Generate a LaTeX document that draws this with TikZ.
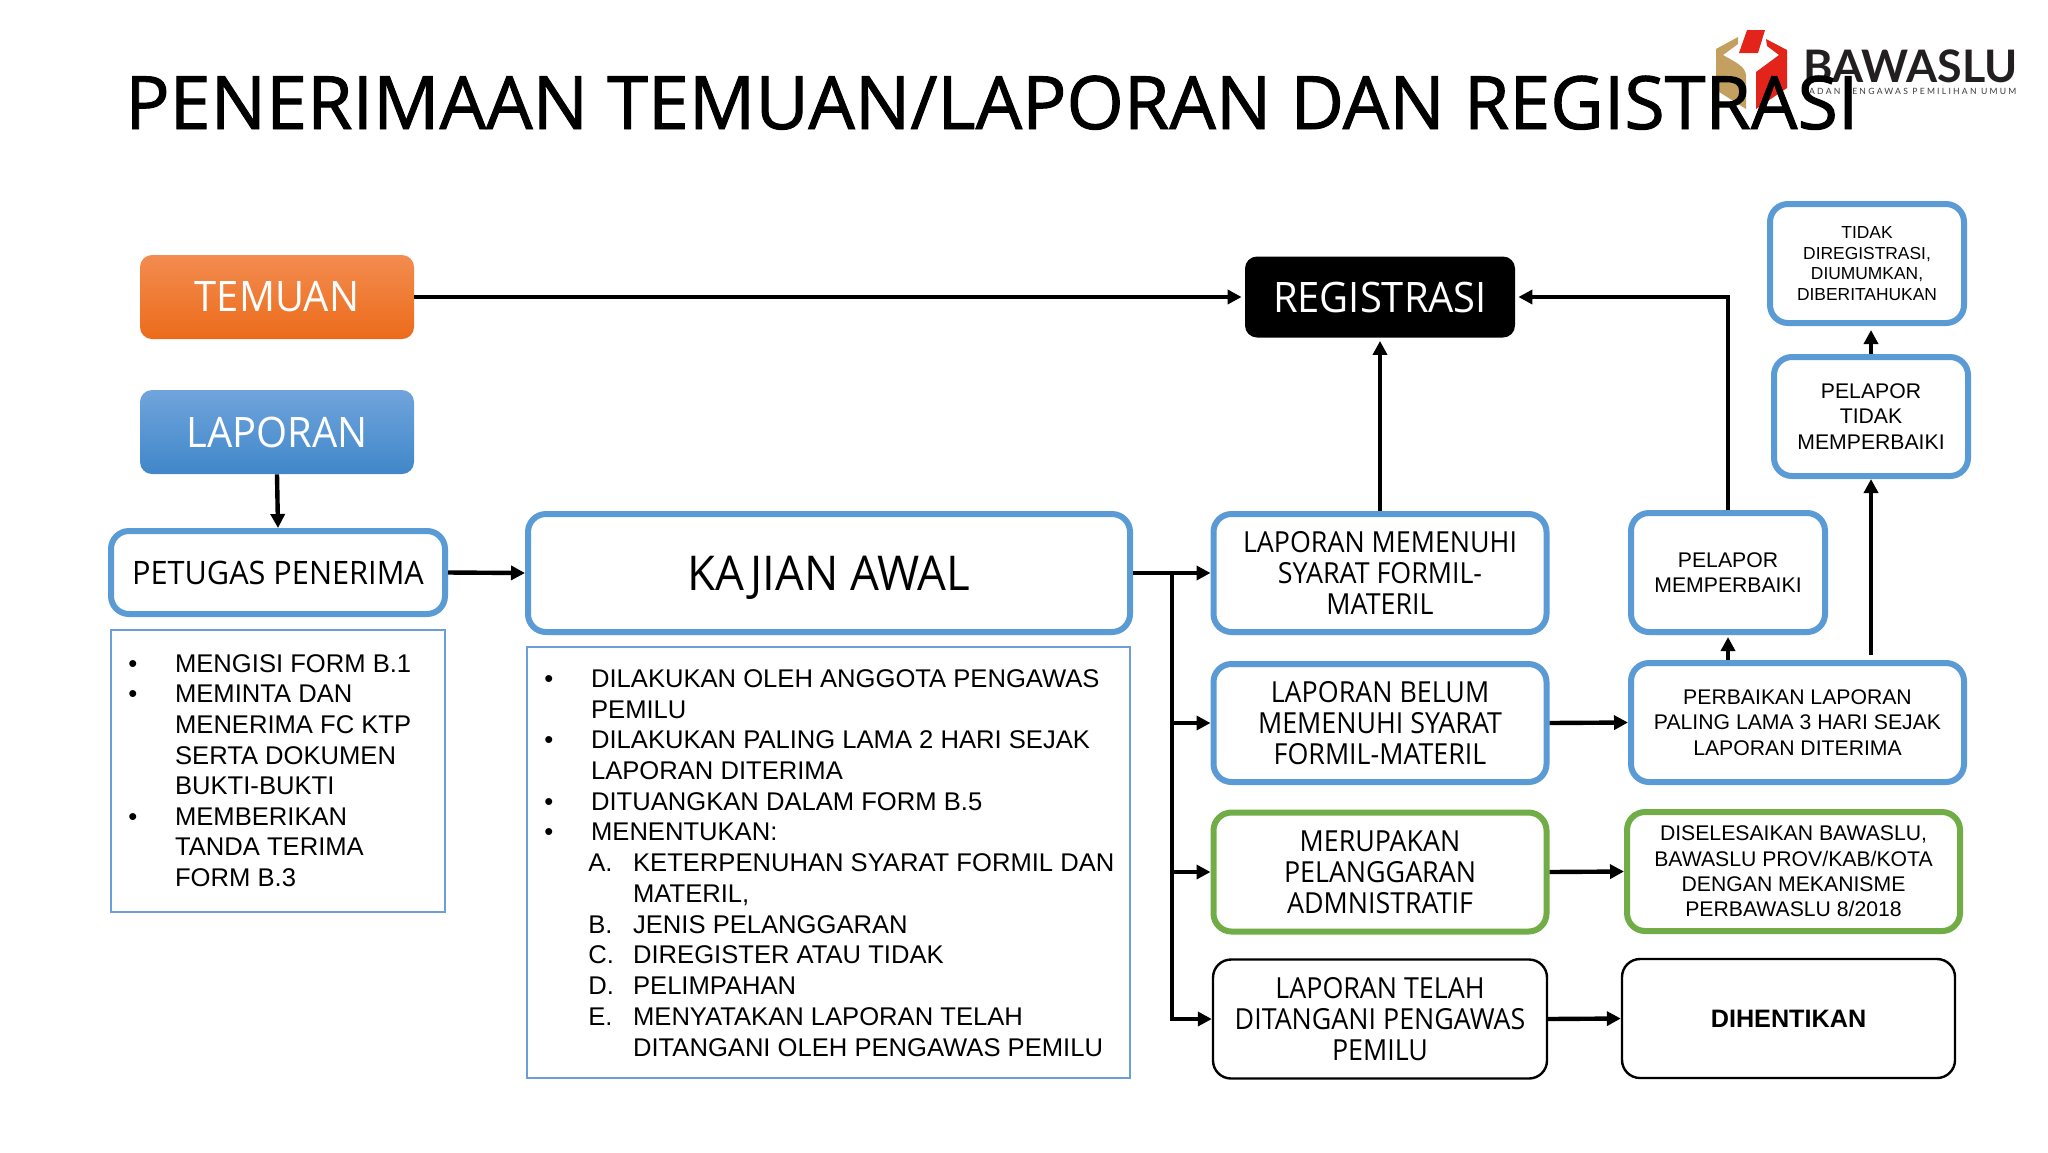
\documentclass[tikz,border=0pt]{standalone}
\usepackage{fontspec}
\usetikzlibrary{arrows.meta,calc}
\setmainfont{Liberation Sans}
\newfontfamily\seg[FakeStretch=0.95]{Open Sans}
\newfontfamily\segn[FakeStretch=0.925]{Open Sans}
\newfontfamily\ttl[FakeBold=1.3]{Open Sans}
\newfontfamily\logofont{Lato}
\newcommand{\fsz}[2]{\fontsize{#1}{#2}\selectfont}
\newcommand{\blt}{\makebox[23.35pt][l]{•}}
\newcommand{\ind}{\hspace*{23.35pt}}
\newcommand{\sublab}[1]{\hspace*{22pt}\makebox[22.35pt][l]{#1}}
\newcommand{\subind}{\hspace*{44.35pt}}
\definecolor{bluebd}{HTML}{5B9BD5}
\definecolor{greenbd}{HTML}{70AD47}
\definecolor{listbd}{HTML}{6C9FD8}
\definecolor{logored}{RGB}{226,36,26}
\definecolor{loggold}{RGB}{196,160,96}
\tikzset{
  sz/.style 2 args={minimum width=#1*0.5pt,minimum height=#2*0.5pt},
  base/.style={inner sep=0pt,align=center,rounded corners=9pt},
  bluebox/.style={base,draw=bluebd,line width=3pt,fill=white,outer sep=1.5pt},
  greenbox/.style={base,draw=greenbd,line width=3pt,fill=white,outer sep=1.5pt},
  blackbox/.style={base,draw=black,line width=1.2pt,fill=white,outer sep=.6pt},
  headbox/.style={base,rounded corners=6pt,text=white},
  listbox/.style={draw=listbd,line width=1pt,fill=white,inner sep=0pt},
  listtext/.style={inner sep=0pt,align=left,anchor=north west},
  seglab/.style={font=\segn\fsz{14.5}{15.45}},
  ariallab/.style={font=\fsz{10.6}{12.7}},
  conn/.style={line width=2.2pt,-{Triangle[length=7pt,width=7pt]}},
}
\begin{document}
\begin{tikzpicture}[x=0.5pt,y=-0.5pt]
\fill[white] (0,0) rectangle (2048,1152);
\useasboundingbox (0,0) rectangle (2048,1152);
% logo
\fill[logored] (1747,30) -- (1765,30) -- (1758,53) -- (1739,53) -- cycle;
\fill[loggold] (1738,37) -- (1716,49) -- (1716,90) -- (1746,109) -- (1746,75) .. controls (1745,66) and (1735,62) .. (1723,55) -- (1738,44) -- cycle;
\fill[logored] (1766,39) -- (1787,50) -- (1787,88) -- (1756,109) -- (1756,72) -- (1779,55) -- (1767,46) -- cycle;
\node[inner sep=0pt,anchor=base west,text={rgb,255:red,35;green,31;blue,32}] (logotxt) at (1803,82) {\logofont\bfseries\fsz{22.4}{24}BAWASLU};
\node[inner sep=0pt,anchor=base west,text={rgb,255:red,60;green,60;blue,60}] (logosub) at (1801,94) {\logofont\addfontfeature{LetterSpace=26}\fsz{4.3}{5}BADAN PENGAWAS PEMILIHAN UMUM};
% title
\node[inner sep=0pt,anchor=base west] (title) at (125,129) {\ttl\fsz{36.8}{40}PENERIMAAN TEMUAN/LAPORAN DAN REGISTRASI};
% heads
\node[headbox,sz={274}{84},shade,shading=axis,top color={rgb,255:red,243;green,140;blue,80},middle color={rgb,255:red,245;green,124;blue,36},bottom color={rgb,255:red,236;green,107;blue,26},font=\seg\fsz{21}{22}] (temuan) at (277,297) {TEMUAN};
\node[headbox,sz={274}{84},shade,shading=axis,top color={rgb,255:red,112;green,164;blue,220},middle color={rgb,255:red,90;green,155;blue,217},bottom color={rgb,255:red,64;green,135;blue,201},font=\seg\fsz{21}{22}] (laporan) at (277,432) {LAPORAN};
\node[headbox,sz={270}{81},fill=black,font=\seg\fsz{21}{22}] (reg) at (1380,297) {REGISTRASI};
% left column
\node[bluebox,sz={334}{83},font=\seg\fsz{16.15}{18}] (pet) at (278,572.5) {PETUGAS PENERIMA};
\node[listbox,sz={334}{282}] (list1) at (278,771) {};
\node[listtext,font=\fsz{12.8}{15.3}] (list1txt) at (128,654) {\blt MENGISI FORM B.1\\\blt MEMINTA DAN\\\ind MENERIMA FC KTP\\\ind SERTA DOKUMEN\\\ind BUKTI-BUKTI\\\blt MEMBERIKAN\\\ind TANDA TERIMA\\\ind FORM B.3};
% kajian
\node[bluebox,sz={602}{118},font=\seg\fsz{24}{25},text depth=0pt] (kaj) at (829,573) {KAJIAN AWAL};
\node[listbox,sz={603}{431}] (list2) at (828.5,862.5) {};
\node[listtext,font=\fsz{12.8}{15.37}] (list2txt) at (544,669) {\blt DILAKUKAN OLEH ANGGOTA PENGAWAS\\\ind PEMILU\\\blt DILAKUKAN PALING LAMA 2 HARI SEJAK\\\ind LAPORAN DITERIMA\\\blt DITUANGKAN DALAM FORM B.5\\\blt MENENTUKAN:\\\sublab{A.}KETERPENUHAN SYARAT FORMIL DAN\\\subind MATERIL,\\\sublab{B.}JENIS PELANGGARAN\\\sublab{C.}DIREGISTER ATAU TIDAK\\\sublab{D.}PELIMPAHAN\\\sublab{E.}MENYATAKAN LAPORAN TELAH\\\subind DITANGANI OLEH PENGAWAS PEMILU};
% middle column
\node[bluebox,sz={333}{118},seglab] (lap1) at (1380,573) {LAPORAN MEMENUHI\\SYARAT FORMIL-\\MATERIL};
\node[bluebox,sz={333}{118},seglab] (lap2) at (1380,723) {LAPORAN BELUM\\MEMENUHI SYARAT\\FORMIL-MATERIL};
\node[greenbox,sz={333}{119},seglab] (lap3) at (1380,872) {MERUPAKAN\\PELANGGARAN\\ADMNISTRATIF};
\node[blackbox,sz={334}{119},seglab] (lap4) at (1380,1019) {LAPORAN TELAH\\DITANGANI PENGAWAS\\PEMILU};
% right column
\node[bluebox,sz={194}{119},font=\fsz{8.7}{10.35}] (tidak) at (1867,263.5) {TIDAK\\DIREGISTRASI,\\DIUMUMKAN,\\DIBERITAHUKAN};
\node[bluebox,sz={194}{119},ariallab] (pt) at (1871,416.5) {PELAPOR\\TIDAK\\MEMPERBAIKI};
\node[bluebox,sz={194}{119},ariallab] (pm) at (1728,572.5) {PELAPOR\\MEMPERBAIKI};
\node[bluebox,sz={333}{119},ariallab] (perb) at (1797.5,722.5) {PERBAIKAN LAPORAN\\PALING LAMA 3 HARI SEJAK\\LAPORAN DITERIMA};
\node[greenbox,sz={333}{119},ariallab] (sel) at (1793.5,871.5) {DISELESAIKAN BAWASLU,\\BAWASLU PROV/KAB/KOTA\\DENGAN MEKANISME\\PERBAWASLU 8/2018};
\node[blackbox,sz={333}{119},font=\bfseries\fsz{12.6}{14}] (henti) at (1788.5,1018.5) {DIHENTIKAN};
% connectors
\draw[conn,shorten >=1.5pt] (temuan.east) -- (reg.west);
\draw[conn] (laporan.south) -- (pet.north);
\draw[conn] (pet.east) -- (kaj.west);
\draw[conn] (kaj.east) -- (lap1.west);
\coordinate (bus) at (1172,573);
\draw[conn] (bus |- lap2.west) -- (lap2.west);
\draw[conn] (bus |- lap3.west) -- (lap3.west);
\draw[conn] (bus) |- (lap4.west);
\draw[conn,shorten >=1.5pt] (lap1.north) -- (reg.south);
\draw[conn,shorten >=1.5pt] (pm.north) |- (reg.east);
\draw[conn] (lap2.east) -- (perb.west);
\draw[conn] (lap3.east) -- (sel.west);
\draw[conn] (lap4.east) -- (henti.west);
\draw[conn,shorten >=1pt] (perb.north -| pm.south) -- (pm.south);
\draw[conn,shorten <=2.5pt] (perb.north -| pt.south) -- (pt.south);
\draw[conn,shorten >=2pt] (pt.north) -- (pt.north |- tidak.south);
\end{tikzpicture}
\end{document}
